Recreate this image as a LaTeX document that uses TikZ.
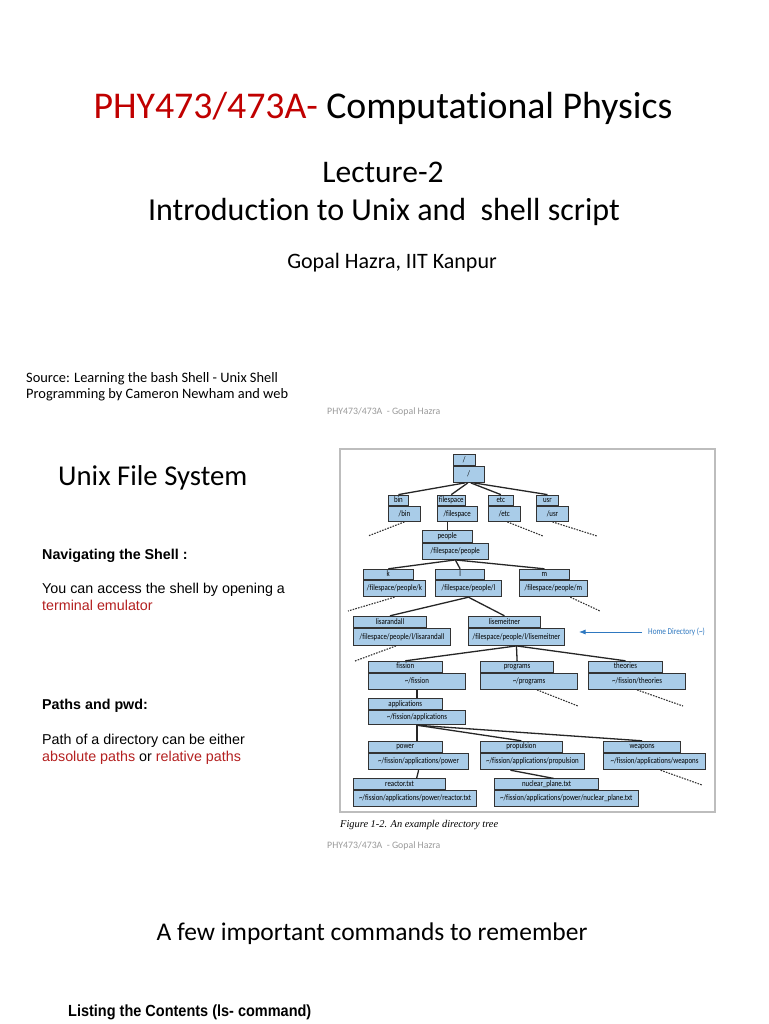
\documentclass[tikz,border=0pt]{standalone}
\usepackage{fontspec}
\setmainfont{Carlito}[Ligatures=CommonOff]
\newfontfamily\arialfont{Liberation Sans}
\newfontfamily\narrowfont[FakeStretch=0.9]{Liberation Sans}
\newfontfamily\treefont[FakeStretch=0.82, Ligatures=CommonOff]{Carlito}
\newfontfamily\capfont{Liberation Serif}
\usetikzlibrary{positioning, arrows.meta, calc}
\definecolor{titlered}{HTML}{C00000}
\definecolor{linkred}{HTML}{B42020}
\definecolor{dirfill}{HTML}{A9CCE8}
\definecolor{dirline}{HTML}{333333}
\definecolor{footgray}{HTML}{9A9A9A}
\definecolor{figframe}{HTML}{BDBDBD}
\definecolor{homeblue}{HTML}{2E78C0}
\tikzset{
  txt/.style={inner sep=0pt, anchor=base west},
  ctxt/.style={inner sep=0pt, anchor=base},
  tabbox/.style={
    draw=dirline, fill=dirfill, line width=0.9pt,
    anchor=south west, minimum height=11pt, inner sep=0pt,
    text height=5.8pt, text depth=1.6pt,
    font=\treefont\fontsize{8.4}{9}\selectfont
  },
  pathbox/.style={
    draw=dirline, fill=dirfill, line width=0.9pt,
    anchor=north west, minimum height=16pt, inner sep=0pt,
    text height=5.8pt, text depth=1.6pt,
    font=\treefont\fontsize{8.4}{9}\selectfont
  },
  branch/.style={line width=1.3pt, draw=black!85},
  more/.style={line width=1.1pt, dash pattern=on 1.6pt off 1.2pt, draw=black!80}
}
\begin{document}
\begin{tikzpicture}[x=1pt, y=-1pt]
  \useasboundingbox (0,0) rectangle (768,1024);
  \fill[white] (0,0) rectangle (768,1024);

  % ====== TITLE SLIDE ======
  \node[ctxt, font=\fontsize{37.8}{44}\selectfont] (title) at (383,119)
    {\textcolor{titlered}{PHY473/473A-} Computational Physics};
  \node[ctxt, font=\fontsize{31.5}{36}\selectfont] (lect) at (383,183) {Lecture-2};
  \node[ctxt, font=\fontsize{32}{36}\selectfont] (intro) at (384,221) {Introduction to Unix and~ shell script};
  \node[ctxt, font=\fontsize{22}{26}\selectfont] (author) at (392,268) {Gopal Hazra, IIT Kanpur};
  \node[txt, font=\fontsize{14.4}{17}\selectfont] (src1) at (26,382) {Source: Learning the bash Shell - Unix Shell};
  \node[txt, font=\fontsize{14.4}{17}\selectfont] (src2) at (26,398) {Programming by Cameron Newham and web};
  \node[txt, font=\fontsize{9.8}{11}\selectfont, footgray] (foot1) at (327,414) {PHY473/473A~ - Gopal Hazra};

  % ====== SECOND SLIDE: TEXT ======
  \node[txt, font=\fontsize{28.7}{33}\selectfont] (unixfs) at (58,485) {Unix File System};
  \node[txt, font=\arialfont\bfseries\fontsize{14.3}{17}\selectfont] (navh) at (42,559) {Navigating the Shell :};
  \node[txt, font=\arialfont\fontsize{14.3}{17}\selectfont] (nav1) at (42,593) {You can access the shell by opening a};
  \node[txt, font=\arialfont\fontsize{14.3}{17}\selectfont, linkred] (nav2) at (42,610) {terminal emulator};
  \node[txt, font=\arialfont\bfseries\fontsize{14.3}{17}\selectfont] (pathh) at (42,709) {Paths and pwd:};
  \node[txt, font=\arialfont\fontsize{14.3}{17}\selectfont] (path1) at (42,744) {Path of a directory can be either};
  \node[txt, font=\arialfont\fontsize{14.3}{17}\selectfont] (path2) at (42,761)
    {\textcolor{linkred}{absolute paths} or \textcolor{linkred}{relative paths}};

  % ====== FIGURE FRAME ======
  \draw[figframe, line width=1.2pt] (340,449) rectangle (715,812);
  \node[txt, font=\capfont\itshape\fontsize{10.4}{12}\selectfont] (caption) at (340,827) {Figure 1-2. An example directory tree};
  \node[txt, font=\fontsize{9.8}{11}\selectfont, footgray] (foot2) at (327,848) {PHY473/473A~ - Gopal Hazra};

  % ====== DIRECTORY TREE ======
  \node[pathbox, minimum width=31.3pt] (root) at (452.7,466) {/};
  \node[tabbox, minimum width=22.3pt] (roott) at (root.north west) {/};

  \node[pathbox, minimum width=32pt, minimum height=15pt] (bin) at (388,506) {/bin};
  \node[tabbox, minimum width=20pt, minimum height=10.5pt] (bint) at (bin.north west) {bin};
  \node[pathbox, minimum width=40pt, minimum height=15pt] (fsp) at (436.7,506) {/filespace};
  \node[tabbox, minimum width=28.3pt, minimum height=10.5pt] (fspt) at (fsp.north west) {filespace};
  \node[pathbox, minimum width=32.3pt, minimum height=15pt] (etc) at (487.7,506) {/etc};
  \node[tabbox, minimum width=25.3pt, minimum height=10.5pt] (etct) at (etc.north west) {etc};
  \node[pathbox, minimum width=32pt, minimum height=15pt] (usr) at (536,506) {/usr};
  \node[tabbox, minimum width=22pt, minimum height=10.5pt] (usrt) at (usr.north west) {usr};

  \node[pathbox, minimum width=66.3pt] (people) at (421.7,543) {/filespace/people};
  \node[tabbox, minimum width=50pt, minimum height=12pt] (peoplet) at (people.north west) {people};

  \node[pathbox, minimum width=62pt] (k) at (363,580.3) {/filespace/people/k};
  \node[tabbox, minimum width=49.7pt, minimum height=10.6pt] (kt) at (k.north west) {k};
  \node[pathbox, minimum width=66pt] (l) at (435,580.3) {/filespace/people/l};
  \node[tabbox, minimum width=49.3pt, minimum height=10.6pt] (lt) at (l.north west) {l};
  \node[pathbox, minimum width=67.7pt] (m) at (519,580.3) {/filespace/people/m};
  \node[tabbox, minimum width=50pt, minimum height=10.6pt] (mt) at (m.north west) {m};

  \node[pathbox, minimum width=97pt, minimum height=16.7pt] (lisa) at (353,628.3) {/filespace/people/l/lisarandall};
  \node[tabbox, minimum width=73pt, minimum height=11.6pt] (lisat) at (lisa.north west) {lisarandall};
  \node[pathbox, minimum width=96pt, minimum height=16.7pt] (lise) at (468,628.3) {/filespace/people/l/lisemeitner};
  \node[tabbox, minimum width=72pt, minimum height=11.6pt] (liset) at (lise.north west) {lisemeitner};

  \node[pathbox, minimum width=97pt, minimum height=16.3pt] (fission) at (368,672.7) {\textasciitilde/fission};
  \node[tabbox, minimum width=73.7pt] (fissiont) at (fission.north west) {fission};
  \node[pathbox, minimum width=97.3pt, minimum height=16.3pt] (progs) at (480,672.7) {\textasciitilde/programs};
  \node[tabbox, minimum width=73.3pt] (progst) at (progs.north west) {programs};
  \node[pathbox, minimum width=96.7pt, minimum height=16.3pt] (theo) at (588.3,672.7) {\textasciitilde/fission/theories};
  \node[tabbox, minimum width=73.4pt] (theot) at (theo.north west) {theories};

  \node[pathbox, minimum width=97pt, minimum height=14.3pt] (apps) at (368,710) {\textasciitilde/fission/applications};
  \node[tabbox, minimum width=73.7pt, minimum height=10.7pt] (appst) at (apps.north west) {applications};

  \node[pathbox, minimum width=100.3pt, minimum height=16.6pt] (power) at (368,752.7) {\textasciitilde/fission/applications/power};
  \node[tabbox, minimum width=73.7pt] (powert) at (power.north west) {power};
  \node[pathbox, minimum width=104pt, minimum height=16.6pt] (prop) at (480,752.7) {\textasciitilde/fission/applications/propulsion};
  \node[tabbox, minimum width=81.7pt] (propt) at (prop.north west) {propulsion};
  \node[pathbox, minimum width=101.7pt, minimum height=16.6pt] (weap) at (603.3,752.7) {\textasciitilde/fission/applications/weapons};
  \node[tabbox, minimum width=76.7pt] (weapt) at (weap.north west) {weapons};

  \node[pathbox, minimum width=122.7pt] (reactor) at (353.3,790) {\textasciitilde/fission/applications/power/reactor.txt};
  \node[tabbox, minimum width=91.7pt, minimum height=10.7pt] (reactort) at (reactor.north west) {reactor.txt};
  \node[pathbox, minimum width=143.7pt] (nuclear) at (494,790) {\textasciitilde/fission/applications/power/nuclear\_plane.txt};
  \node[tabbox, minimum width=104.3pt, minimum height=10.7pt] (nucleart) at (nuclear.north west) {nuclear\_plane.txt};

  % ====== BRANCHES ======
  \draw[branch] ([xshift=-4pt]root.south) -- (bint.north);
  \draw[branch] ([xshift=-1pt]root.south) -- (fspt.north);
  \draw[branch] ([xshift=2pt]root.south) -- (etct.north);
  \draw[branch] ([xshift=5pt]root.south) -- (usrt.north);
  \draw[branch] (fsp.south -| peoplet.north) -- (peoplet.north);
  \draw[branch] (people.south) -- (kt.north);
  \draw[branch] (people.south) -- (lt.north);
  \draw[branch] (people.south) -- (mt.north);
  \draw[branch] (l.south) -- (lisat.north);
  \draw[branch] (l.south) -- (liset.north);
  \draw[branch] (lise.south) -- (fissiont.north);
  \draw[branch] (lise.south) -- (progst.north);
  \draw[branch] (lise.south) -- (theot.north);
  \draw[branch] (fission.south) -- (fission.south |- appst.north);
  \draw[branch] (apps.south) -- (apps.south |- powert.north);
  \draw[branch] (apps.south) -- (propt.north);
  \draw[branch] (apps.south) -- (weapt.north);
  \draw[branch] (power.south) -- ([xshift=-2pt]power.south |- reactort.north);
  \draw[branch] ([xshift=-22pt]prop.south) -- ([xshift=7pt]nucleart.north);

  % ====== MORE ENTRIES (dotted) ======
  \coordinate (binmore) at (368,536);
  \coordinate (etcmore) at (543,536);
  \coordinate (usrmore) at (597,536);
  \coordinate (kmore) at (348,611);
  \coordinate (mmore) at (600,611);
  \coordinate (lisamore) at (355,661);
  \coordinate (progsmore) at (578,706);
  \coordinate (theomore) at (683,706);
  \coordinate (weapmore) at (702,785);
  \draw[more] (bin.south) -- (binmore);
  \draw[more] ([xshift=3pt]etc.south) -- (etcmore);
  \draw[more] (usr.south) -- (usrmore);
  \draw[more] (k.south) -- (kmore);
  \draw[more] ([xshift=17pt]m.south) -- (mmore);
  \draw[more] ([xshift=-6pt]lisa.south) -- (lisamore);
  \draw[more] ([xshift=8pt]progs.south) -- (progsmore);
  \draw[more] (theo.south) -- (theomore);
  \draw[more] ([xshift=6pt]weap.south) -- (weapmore);

  % ====== HOME DIRECTORY ======
  \node[txt, anchor=west, font=\treefont\fontsize{8.9}{10}\selectfont, homeblue] (home) at (648,632) {Home Directory (\textasciitilde)};
  \draw[-Latex, homeblue, line width=0.8pt, shorten <=6pt, shorten >=14pt] (home.west) -- (lise.east |- home.west);

  % ====== THIRD SLIDE ======
  \node[ctxt, font=\fontsize{25.5}{30}\selectfont] (cmds) at (372,940) {A few important commands to remember};
  \node[txt, font=\narrowfont\bfseries\fontsize{16.1}{19}\selectfont] (lsh) at (68,1016) {Listing the Contents (ls- command)};
\end{tikzpicture}
\end{document}
